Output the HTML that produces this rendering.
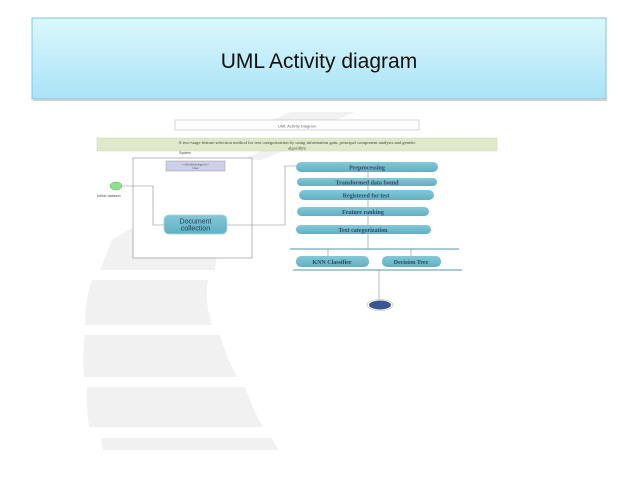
<!DOCTYPE html>
<html><head><meta charset="utf-8"><style>
body{margin:0;width:638px;height:478px;background:#fff;overflow:hidden;font-family:"Liberation Serif",serif}
</style></head><body>
<svg width="638" height="478" viewBox="0 0 638 478" xmlns="http://www.w3.org/2000/svg">
<defs>
<linearGradient id="hg" x1="0" y1="0" x2="0" y2="1"><stop offset="0" stop-color="#dcf7fd"/><stop offset="1" stop-color="#a9e3f6"/></linearGradient>
<linearGradient id="pill" x1="0" y1="0" x2="0" y2="1"><stop offset="0" stop-color="#86c7d6"/><stop offset="1" stop-color="#5fb0c4"/></linearGradient>
</defs>
<!-- background bands -->
<g fill="#f1f1f1">
<polygon points="262,125 290,112 355,112 325,125"/>
<polygon points="240,160 268,148 290,148 262,160"/>
<polygon points="100,270 112,240 132,228 220,228 215,270"/>
<path d="M85,325 Q86,295 92,280 L208,280 Q204,300 212,325 Z"/>
<path d="M84,377 Q82,355 85,335 L220,335 Q226,357 237,377 Z"/>
<path d="M89,427 Q86,405 87,387 L245,387 Q252,408 263,427 Z"/>
<polygon points="103,450 101,438 272,438 278,450"/>
</g>
<!-- header -->
<rect x="32" y="18" width="574" height="81" fill="url(#hg)" stroke="#7cc7dc" stroke-width="1"/>
<rect x="33" y="99" width="574" height="2" fill="#cfcfcf"/>
<text x="319" y="68" font-family="Liberation Sans, sans-serif" font-size="21" text-anchor="middle" fill="#111">UML Activity diagram</text>
<!-- title box -->
<rect x="175" y="120" width="244" height="10" fill="#fff" stroke="#bbb" stroke-width="0.6"/>
<text x="297" y="127.5" font-size="4" text-anchor="middle" fill="#666" font-family="Liberation Sans, sans-serif">UML Activity Diagram</text>
<rect x="97" y="138" width="400" height="13" fill="#dfe9c9" stroke="#cdd8b4" stroke-width="0.5"/>
<text x="297" y="144" font-size="4.6" text-anchor="middle" fill="#444">A two-stage feature selection method for text categorization by using information gain, principal component analysis and genetic</text>
<text x="297" y="149.5" font-size="4.6" text-anchor="middle" fill="#444">algorithm</text>
<text x="185" y="154" font-size="3.5" text-anchor="middle" fill="#444" font-family="Liberation Sans, sans-serif">System</text>
<!-- system box -->
<rect x="133" y="158" width="119" height="100" fill="#fff" stroke="#999" stroke-width="0.7"/>
<rect x="166" y="161" width="59" height="10" fill="#cdd0e8" stroke="#999" stroke-width="0.5"/>
<text x="195.5" y="165.5" font-size="3" text-anchor="middle" fill="#555" font-family="Liberation Sans, sans-serif">&lt;&lt;WorkflowAgent&gt;&gt;</text>
<text x="195.5" y="169" font-size="3" text-anchor="middle" fill="#555" font-family="Liberation Sans, sans-serif">User</text>
<ellipse cx="116" cy="186" rx="6" ry="4" fill="#8de08f" stroke="#5bb05d" stroke-width="0.5"/>
<text x="97" y="197" font-size="4" fill="#555" font-family="Liberation Sans, sans-serif">Initial dataset</text>
<g fill="none" stroke="#888" stroke-width="0.6">
<polyline points="122,186 153,186 153,225 164,225"/>
<polyline points="227,225 285,225 285,166 296,166"/>
<line x1="368" y1="172" x2="368" y2="249"/>
<line x1="328" y1="249" x2="328" y2="256"/>
<line x1="411" y1="249" x2="411" y2="256"/>
<line x1="379" y1="270" x2="379" y2="300"/>
</g>
<rect x="164" y="215" width="63" height="19" rx="5" fill="url(#pill)" stroke="#a9d5e0" stroke-width="0.8"/>
<text x="195.5" y="223.5" font-size="7" text-anchor="middle" fill="#1e3a55" font-family="Liberation Sans, sans-serif">Document</text>
<text x="195.5" y="230.5" font-size="7" text-anchor="middle" fill="#1e3a55" font-family="Liberation Sans, sans-serif">collection</text>
<g font-size="6" font-weight="bold" text-anchor="middle" fill="#2a4a6a">
<rect x="296" y="162" width="142" height="10" rx="5" fill="url(#pill)"/><text x="367" y="169.3">Preprocessing</text>
<rect x="297" y="178" width="140" height="8" rx="4" fill="url(#pill)"/><text x="367" y="184.3">Transformed data found</text>
<rect x="299" y="190" width="135" height="10" rx="5" fill="url(#pill)"/><text x="366" y="197.3">Registered for test</text>
<rect x="297" y="207" width="132" height="9" rx="4.5" fill="url(#pill)"/><text x="363" y="213.8">Feature ranking</text>
<rect x="296" y="225" width="135" height="9" rx="4.5" fill="url(#pill)"/><text x="363" y="231.8">Text categorization</text>
<rect x="296" y="256" width="73" height="11" rx="5" fill="url(#pill)"/><text x="332" y="263.8">KNN Classifier</text>
<rect x="382" y="256" width="59" height="11" rx="5" fill="url(#pill)"/><text x="411" y="263.8">Decision Tree</text>
</g>
<line x1="290" y1="249" x2="459" y2="249" stroke="#4f95ad" stroke-width="1"/>
<line x1="293" y1="270" x2="462" y2="270" stroke="#4f95ad" stroke-width="1"/>
<ellipse cx="380" cy="305" rx="13" ry="5.5" fill="#fff" stroke="#bbb" stroke-width="0.6"/>
<ellipse cx="380" cy="305" rx="11" ry="4.5" fill="#3b5590"/>
</svg>
</body></html>
